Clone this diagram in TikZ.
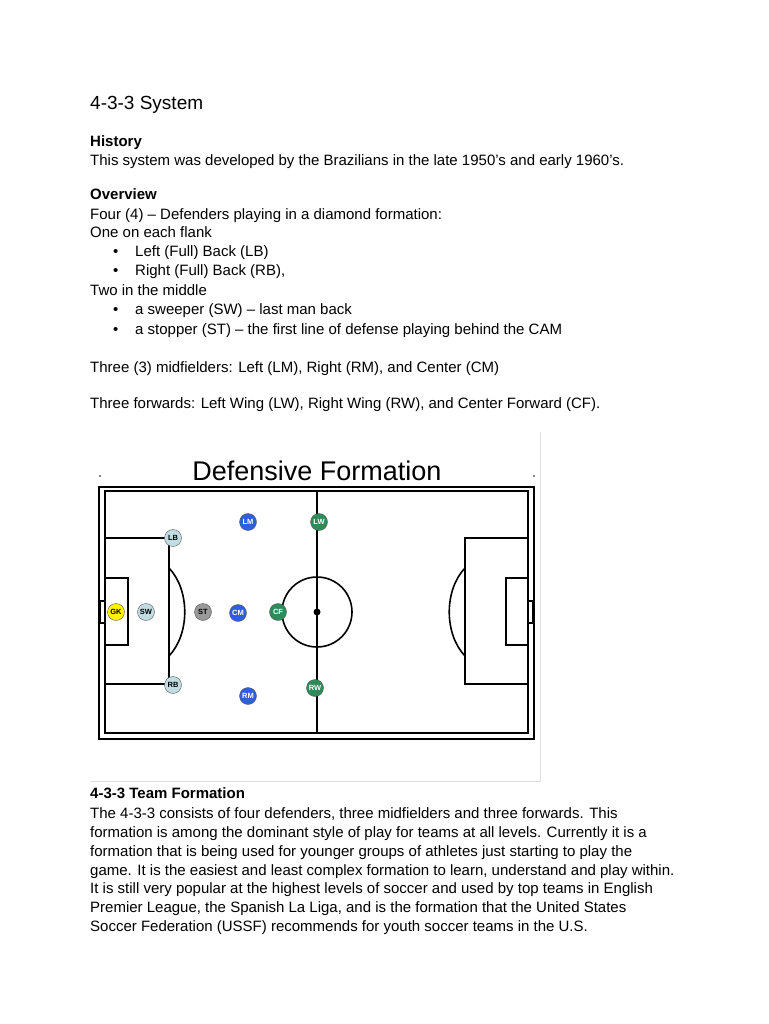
\documentclass[tikz,border=0pt]{standalone}
\usepackage{fontspec}
\setmainfont{Liberation Sans}
\begin{document}
\begin{tikzpicture}[x=1pt,y=-1pt,
 txt/.style={anchor=base west,inner sep=0pt,font=\fontsize{15}{15}\selectfont},
 bold/.style={txt,font=\fontsize{15}{15}\selectfont\bfseries},
 pl/.style={circle,draw=gray!70!black,line width=0.4pt,minimum size=17pt,inner sep=0pt,font=\fontsize{7.5}{7.5}\selectfont\bfseries},
 fl/.style={line width=1.6pt}]
\useasboundingbox (0,0) rectangle (768,1024);
\node[txt,font=\fontsize{19}{19}\selectfont] (t) at (90,110) {4-3-3 System};
\node[bold] (h) at (90,147) {History};
\node[txt] (l1) at (90,166) {This system was developed by the Brazilians in the late 1950's and early 1960's.};
\node[bold] (o) at (90,200) {Overview};
\node[txt] (l2) at (90,219) {Four (4) -- Defenders playing in a diamond formation:};
\node[txt] (l3) at (90,237) {One on each flank};
\node[txt] (b1) at (113,256) {\textbullet};\node[txt] (l4) at (135,256) {Left (Full) Back (LB)};
\node[txt] (b2) at (113,275) {\textbullet};\node[txt] (l5) at (135,275) {Right (Full) Back (RB),};
\node[txt] (l6) at (90,295) {Two in the middle};
\node[txt] (b3) at (113,314) {\textbullet};\node[txt] (l7) at (135,314) {a sweeper (SW) -- last man back};
\node[txt] (b4) at (113,334) {\textbullet};\node[txt] (l8) at (135,334) {a stopper (ST) -- the first line of defense playing behind the CAM};
\node[txt] (l9) at (90,372) {Three (3) midfielders: Left (LM), Right (RM), and Center (CM)};
\node[txt] (l10) at (90,408) {Three forwards: Left Wing (LW), Right Wing (RW), and Center Forward (CF).};
% image frame
\draw[gray!25,line width=0.8pt] (540,432) -- (540,781) -- (90,781);
\node[font=\fontsize{27}{27}\selectfont,inner sep=0pt] (title) at (317,471) {Defensive Formation};
\fill (100,476) circle (0.8) (534,476) circle (0.8);
% field
\draw[fl] (99,487) rectangle (534,739);
\draw[fl] (105,491) rectangle (528,733);
\draw[fl] (317,491) -- (317,733);
\draw[fl] (317,612) circle (35);
\fill (317,612) circle (3.5);
\draw[fl] (105,538) -- (169,538) -- (169,684) -- (105,684);
\draw[fl] (105,578) -- (128,578) -- (128,645) -- (105,645);
\draw[fl] (105,601) -- (100,601) -- (100,623) -- (105,623);
\draw[fl] (169,568) .. controls (190,590) and (190,634) .. (169,656);
\draw[fl] (528,538) -- (465,538) -- (465,684) -- (528,684);
\draw[fl] (528,578) -- (506,578) -- (506,645) -- (528,645);
\draw[fl] (528,601) -- (533,601) -- (533,623) -- (528,623);
\draw[fl] (465,568) .. controls (444,590) and (444,634) .. (465,656);
% players
\definecolor{pblue}{HTML}{2F5FE0}\definecolor{pgreen}{HTML}{2E8B5A}
\definecolor{plight}{HTML}{BFDDE2}
\node[pl,fill=pblue,text=white] (LM) at (248,522) {LM};
\node[pl,fill=pgreen,text=white] (LW) at (319,522) {LW};
\node[pl,fill=plight] (LB) at (173,538) {LB};
\node[pl,fill=yellow] (GK) at (116,612) {GK};
\node[pl,fill=plight] (SW) at (146,612) {SW};
\node[pl,fill=gray!80] (ST) at (203,612) {ST};
\node[pl,fill=pblue,text=white] (CM) at (238,613) {CM};
\node[pl,fill=pgreen,text=white] (CF) at (278,612) {CF};
\node[pl,fill=plight] (RB) at (173,685) {RB};
\node[pl,fill=pblue,text=white] (RM) at (248,696) {RM};
\node[pl,fill=pgreen,text=white] (RW) at (315,688) {RW};
% bottom text
\node[bold] (tf) at (90,798) {4-3-3 Team Formation};
\node[txt] (p1) at (90,818) {The 4-3-3 consists of four defenders, three midfielders and three forwards. This};
\node[txt] (p2) at (90,837) {formation is among the dominant style of play for teams at all levels. Currently it is a};
\node[txt] (p3) at (90,856) {formation that is being used for younger groups of athletes just starting to play the};
\node[txt] (p4) at (90,875) {game. It is the easiest and least complex formation to learn, understand and play within.};
\node[txt] (p5) at (90,893) {It is still very popular at the highest levels of soccer and used by top teams in English};
\node[txt] (p6) at (90,912) {Premier League, the Spanish La Liga, and is the formation that the United States};
\node[txt] (p7) at (90,931) {Soccer Federation (USSF) recommends for youth soccer teams in the U.S.};
\end{tikzpicture}
\end{document}
